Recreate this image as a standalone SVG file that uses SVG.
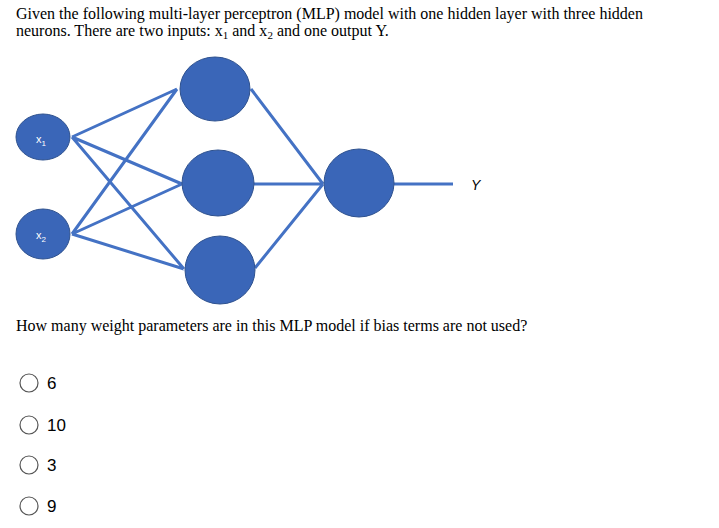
<svg xmlns="http://www.w3.org/2000/svg" width="719" height="528" viewBox="0 0 719 528">
<style>
.q{font-family:"Liberation Serif",serif;font-size:16px;fill:#000}
.n{fill:#3a66b8;stroke:#2f528f;stroke-width:1}
.c{stroke:#4472c4;stroke-width:3;fill:none}
.r{fill:#fff;stroke:#555;stroke-width:1.2}
.a{font-family:"Liberation Sans",sans-serif;font-size:17px;fill:#000}
.l{font-family:"Liberation Sans",sans-serif;font-size:11px;fill:#fff}
</style>
<rect width="719" height="528" fill="#fff"/>
<text class="q" x="16" y="19">Given the following multi-layer perceptron (MLP) model with one hidden layer with three hidden</text>
<text class="q" x="16" y="36">neurons. There are two inputs: x<tspan font-size="11" dy="3">1</tspan><tspan dy="-3"> and x</tspan><tspan font-size="11" dy="3">2</tspan><tspan dy="-3"> and one output Y.</tspan></text>
<g id="connectors">
<path class="c" d="M72 137L177 89M72 137L182 184M72 137L184 269M72 234L177 89M72 234L182 184M72 234L184 269M251 89L323 184M254 184L323 184M255 268L323 184M394 184L453 184"/>
</g>
<g id="x1"><ellipse class="n" cx="43" cy="137" rx="27" ry="23"/><text class="l" x="36" y="143">x<tspan font-size="8" dy="3">1</tspan></text></g>
<g id="x2"><ellipse class="n" cx="43" cy="234" rx="27" ry="25"/><text class="l" x="36" y="239">x<tspan font-size="8" dy="3">2</tspan></text></g>
<g id="h1"><ellipse class="n" cx="215" cy="89" rx="35" ry="32"/></g>
<g id="h2"><ellipse class="n" cx="218" cy="183" rx="36" ry="33"/></g>
<g id="h3"><ellipse class="n" cx="220" cy="270" rx="35" ry="34"/></g>
<g id="out"><ellipse class="n" cx="359" cy="183" rx="35" ry="34"/></g>
<text x="471" y="190" font-family="Liberation Sans,sans-serif" font-style="italic" font-size="14">Y</text>
<text class="q" x="16" y="331">How many weight parameters are in this MLP model if bias terms are not used?</text>
<circle class="r" cx="29" cy="383" r="9"/><text class="a" x="47" y="389">6</text>
<circle class="r" cx="29" cy="425" r="9"/><text class="a" x="47" y="431">10</text>
<circle class="r" cx="29" cy="465" r="9"/><text class="a" x="47" y="471">3</text>
<circle class="r" cx="29" cy="506" r="9"/><text class="a" x="47" y="512">9</text>
</svg>
